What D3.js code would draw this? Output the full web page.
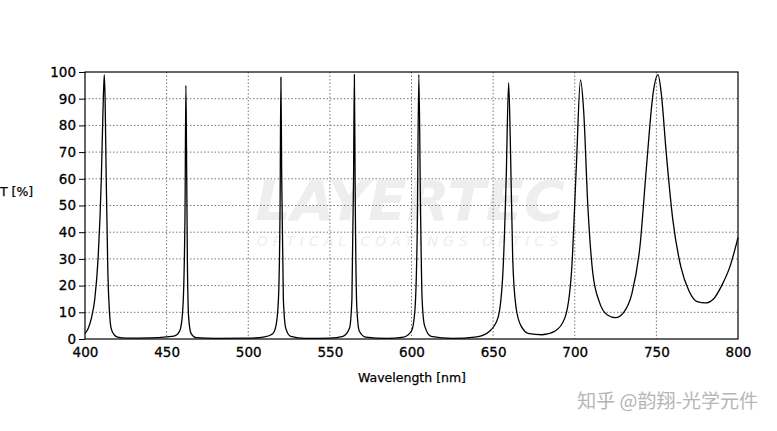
<!DOCTYPE html>
<html><head><meta charset="utf-8">
<script src="https://cdn.jsdelivr.net/npm/d3@7"></script>
<style>body{margin:0;background:#fff}</style></head>
<body><svg id="c" width="777" height="431"></svg>
<script>
const wavelength=[400,402,404,406,408,410,411,411.8,412.3,413,414,415,416,418,420,425,440,450,455,458,459.5,460.5,461.3,461.8,462.2,462.7,463.5,465,468,480,500,510,515,517,518.5,519.5,520,520.5,521.5,523,526,535,550,558,562,563.5,564.5,565,565.5,566.5,568,572,585,595,600,602,603.5,604.5,605.5,606.5,608,612,625,640,648,653,656,658,659.5,660.5,662,664,667,672,680,688,694,698,701,703.5,705.5,708,711,715,720,725,730,735,740,744,748,751,753,756,760,765,770,775,780,785,790,795,800];
const transmission=[2,4,8,15,30,60,85,99,90,60,25,10,4,1.5,0.7,0.3,0.4,0.8,1.2,3,8,20,50,95,70,30,8,2,0.5,0.2,0.3,0.8,2,5,15,50,98,60,15,4,1,0.2,0.3,1,4,15,60,99,55,12,3,0.7,0.2,0.7,3,10,40,99,50,15,5,1,0.2,0.8,3,8,25,60,96,75,30,12,5,2,1.6,3,8,25,65,97,85,50,25,14,9,8,10,17,35,65,92,99,92,70,45,27,18,14,13.5,15,20,27,38];
const xTicks=[400,450,500,550,600,650,700,750,800];
const yTicks=[0,10,20,30,40,50,60,70,80,90,100];
const svg=d3.select("#c");
const L=85,R=738,T=72,B=339;
const x=d3.scaleLinear().domain([400,800]).range([L,R]);
const y=d3.scaleLinear().domain([0,100]).range([B,T]);
const font="Verdana, 'DejaVu Sans', sans-serif";
svg.append("text").attr("x",410).attr("y",220).attr("text-anchor","middle").attr("font-family",font).attr("font-size",56).attr("font-weight","bold").attr("font-style","italic").attr("fill","#eeeeee").text("LAYERTEC");
svg.append("text").attr("x",410).attr("y",246).attr("text-anchor","middle").attr("font-family",font).attr("font-size",14).attr("font-style","italic").attr("letter-spacing",5).attr("fill","#eeeeee").text("OPTICAL COATINGS OPTICS");
const g=svg.append("g");
g.selectAll(".gx").data(xTicks.slice(1,-1)).enter().append("line").attr("x1",d=>x(d)).attr("x2",d=>x(d)).attr("y1",T).attr("y2",B).attr("stroke","#777").attr("stroke-dasharray","1.5,2");
g.selectAll(".gy").data(yTicks.slice(1,-1)).enter().append("line").attr("y1",d=>y(d)).attr("y2",d=>y(d)).attr("x1",L).attr("x2",R).attr("stroke","#777").attr("stroke-dasharray","1.5,2");
svg.append("path").datum(wavelength.map((w,i)=>[w,transmission[i]])).attr("fill","none").attr("stroke","#000").attr("stroke-width",1.3)
 .attr("d",d3.line().x(d=>x(d[0])).y(d=>y(d[1])).curve(d3.curveMonotoneX));
svg.append("rect").attr("x",L).attr("y",T).attr("width",R-L).attr("height",B-T).attr("fill","none").attr("stroke","#000").attr("stroke-width",1.2);
const xa=svg.append("g").attr("transform",`translate(0,${B})`).call(d3.axisBottom(x).tickValues(xTicks).tickSize(0).tickPadding(8));
const ya=svg.append("g").attr("transform",`translate(${L},0)`).call(d3.axisLeft(y).tickValues(yTicks).tickSize(6).tickPadding(3));
[xa,ya].forEach(a=>{a.select(".domain").remove();a.selectAll("text").attr("font-family",font).attr("font-size",13.5).attr("fill","#000").attr("stroke","#000").attr("stroke-width",0.3);});
ya.selectAll("line").attr("stroke","#000");
svg.append("text").attr("x",412).attr("y",382).attr("text-anchor","middle").attr("font-family",font).attr("font-size",12.5).attr("stroke","#000").attr("stroke-width",0.25).text("Wavelength [nm]");
svg.append("text").attr("x",0).attr("y",196).attr("font-family",font).attr("font-size",12.5).attr("stroke","#000").attr("stroke-width",0.25).text("T [%]");
svg.append("text").attr("x",758).attr("y",408).attr("text-anchor","end").attr("font-family","'Noto Sans CJK SC'").attr("font-size",19).attr("fill","#b5b5b5").text("知乎 @韵翔-光学元件");
</script></body></html>
